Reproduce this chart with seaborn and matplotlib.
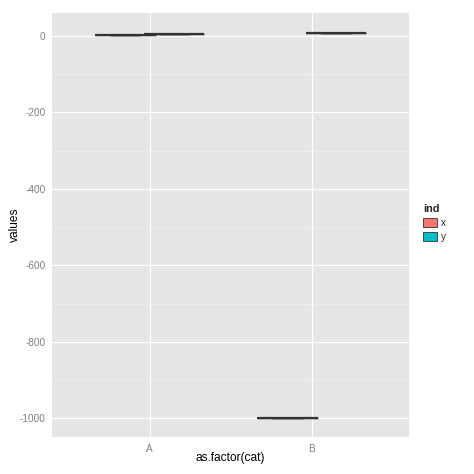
import pandas as pd
import matplotlib
matplotlib.use("Agg")
import matplotlib.pyplot as plt
import matplotlib.patches as mpatches
import seaborn as sns

# values (every box is flat)
cats = ["A", "A", "B", "B"]
inds = ["x", "y", "x", "y"]
values = [3, 6, -1000, 9]
hue_levels = ["x", "y"]
hue_colors = ["#F8766D", "#00BFC4"]
y_ticks = [0, -200, -400, -600, -800, -1000]
y_minor = [-100, -300, -500, -700, -900]

df = pd.DataFrame({"cat": cats, "ind": inds, "values": values})

sns.set_style("white")
plt.rcParams["font.family"] = ["Liberation Sans", "DejaVu Sans"]
plt.rcParams["axes.unicode_minus"] = False

fig = plt.figure(figsize=(4.74, 4.74), dpi=100)
ax = fig.add_axes([52.3 / 474, 1 - 436.7 / 474, (409 - 52.3) / 474, (436.7 - 12.7) / 474])
ax.set_facecolor("#E5E5E5")

sns.boxplot(data=df, x="cat", y="values", hue="ind", order=["A", "B"],
            hue_order=hue_levels, palette=dict(zip(hue_levels, hue_colors)),
            width=0.6, gap=-0.25, linecolor="#333333", linewidth=1.0,
            medianprops={"linewidth": 1.6, "color": "#333333"},
            legend=False, ax=ax, zorder=3)

ax.set_xlim(-0.6, 1.6)
ax.set_ylim(-1048, 61)
ax.set_yticks(y_ticks)
ax.set_yticks(y_minor, minor=True)
ax.grid(True, which="major", color="white", linewidth=0.9, zorder=0)
ax.grid(True, which="minor", axis="y", color="#F2F2F2", linewidth=0.5, zorder=0)
ax.set_axisbelow(True)
for s in ax.spines.values():
    s.set_visible(False)

ax.tick_params(axis="both", which="major", length=3, width=0.6, color="#7F7F7F",
               labelcolor="#7F7F7F", labelsize=7.2, pad=2, direction="out")
ax.tick_params(axis="y", which="minor", length=0)
ax.set_xlabel("as.factor(cat)", fontsize=8.6, color="black")
ax.set_ylabel("values", fontsize=8.6, color="black")
ax.xaxis.set_label_coords((230 - 52.3) / 356.7, (436.7 - 458) / 424)
ax.yaxis.set_label_coords((15 - 52.3) / 356.7, 0.5)
ax.xaxis.label.set_va("center")
ax.yaxis.label.set_va("center")

handles = [mpatches.Patch(facecolor=c, edgecolor="#333333", linewidth=0.6, label=l)
           for l, c in zip(hue_levels, hue_colors)]
leg = fig.legend(handles=handles, title="ind", loc="upper left",
                 bbox_to_anchor=(419 / 474, 1 - 200 / 474), frameon=False,
                 fontsize=7.2, title_fontsize=7.8, handlelength=1.4, handleheight=1.0,
                 handletextpad=0.4, labelspacing=0.4, borderaxespad=0)
leg.get_title().set_fontweight("bold")
leg._legend_box.align = "left"

fig.savefig("out.png", dpi=100)
